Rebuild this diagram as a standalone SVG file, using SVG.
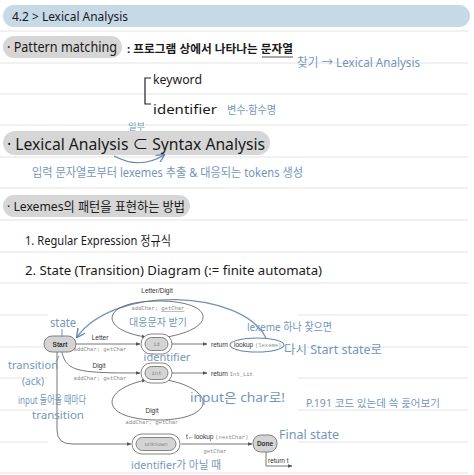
<svg xmlns="http://www.w3.org/2000/svg" width="474" height="475" viewBox="0 0 474 475">
<defs>
<style>
.rule{stroke:#e3e3e3;stroke-width:1.2}
.pill{fill:#d6d6d6}
.t{font-family:"Noto Sans","Noto Sans CJK KR",sans-serif;fill:#1a1a1a}
.b{font-family:"Noto Sans","Noto Sans CJK KR",sans-serif;fill:#7496bb}
.lbl{font-family:"Liberation Sans",Arial,sans-serif;font-size:6.5px;fill:#333}
.mono{font-family:"Liberation Mono","Courier New",monospace;font-size:5.5px;fill:#888}
.edge{fill:none;stroke:#666;stroke-width:0.9}
.node{fill:#d4d4d4;stroke:#777;stroke-width:0.9}
.outer{fill:#fff;stroke:#777;stroke-width:0.9}
</style>
<marker id="ah" viewBox="0 0 10 10" refX="9" refY="5" markerWidth="5" markerHeight="5" orient="auto"><path d="M0 1 L10 5 L0 9 z" fill="#555"/></marker>
<marker id="ahb" viewBox="0 0 10 10" refX="9" refY="5" markerWidth="7" markerHeight="7" orient="auto"><path d="M0 0 L10 5 L0 10" fill="none" stroke="#5f86ad" stroke-width="1.5"/></marker>
</defs>
<rect width="474" height="475" fill="#fff"/>
<g id="rules">
<line class="rule" x1="0" y1="31" x2="468" y2="31"/>
<line class="rule" x1="0" y1="63" x2="468" y2="63"/>
<line class="rule" x1="0" y1="94" x2="468" y2="94"/>
<line class="rule" x1="0" y1="125" x2="468" y2="125"/>
<line class="rule" x1="0" y1="157" x2="468" y2="157"/>
<line class="rule" x1="0" y1="188" x2="468" y2="188"/>
<line class="rule" x1="0" y1="220" x2="468" y2="220"/>
<line class="rule" x1="0" y1="252" x2="468" y2="252"/>
<line class="rule" x1="0" y1="283" x2="468" y2="283"/>
<line class="rule" x1="0" y1="315" x2="48" y2="315"/><line class="rule" x1="298" y1="315" x2="468" y2="315"/>
<line class="rule" x1="0" y1="347" x2="48" y2="347"/><line class="rule" x1="298" y1="347" x2="468" y2="347"/>
<line class="rule" x1="0" y1="378" x2="48" y2="378"/><line class="rule" x1="298" y1="378" x2="468" y2="378"/>
<line class="rule" x1="0" y1="410" x2="48" y2="410"/><line class="rule" x1="298" y1="410" x2="468" y2="410"/>
<line class="rule" x1="0" y1="442" x2="48" y2="442"/><line class="rule" x1="298" y1="442" x2="468" y2="442"/>
<line class="rule" x1="0" y1="473" x2="468" y2="473"/>
</g>
<g id="header">
<rect x="3" y="5" width="467" height="22" rx="11" fill="#c6d9e6"/>
<text class="t" x="12" y="21" font-size="13" textLength="116" lengthAdjust="spacingAndGlyphs">4.2 &gt; Lexical Analysis</text>
</g>
<g id="pattern">
<rect class="pill" x="3" y="36" width="119" height="22" rx="11"/>
<text class="t" x="7" y="52" font-size="14" textLength="110" lengthAdjust="spacingAndGlyphs">· Pattern matching</text>
<text class="t" x="127" y="53" font-size="11" font-weight="bold" textLength="166" lengthAdjust="spacingAndGlyphs">: 프로그램 상에서 나타나는 문자열</text>
<line x1="262" y1="57" x2="293" y2="57" stroke="#222" stroke-width="0.8"/>
<text class="b" x="297" y="67" font-size="12" textLength="123" lengthAdjust="spacingAndGlyphs" fill="#86a2c2">찾기 → Lexical Analysis</text>
<path d="M151 78 L145 78 L145 104 L151 104" fill="none" stroke="#222" stroke-width="1.2"/>
<text class="t" x="153" y="84" font-size="13" textLength="49" lengthAdjust="spacingAndGlyphs">keyword</text>
<text class="t" x="153" y="114" font-size="13" textLength="64" lengthAdjust="spacingAndGlyphs">identifier</text>
<text class="b" x="227" y="114" font-size="11" textLength="49" lengthAdjust="spacingAndGlyphs">변수·함수명</text>
</g>
<g id="lexical">
<rect class="pill" x="3" y="131" width="267" height="24" rx="12"/>
<text class="t" x="7" y="150" font-size="16" textLength="258" lengthAdjust="spacingAndGlyphs">· Lexical Analysis ⊂ Syntax Analysis</text>
<text class="b" x="128" y="130" font-size="9" textLength="17" lengthAdjust="spacingAndGlyphs">일부</text>
<path d="M114 156 Q140 170 164 155" fill="none" stroke="#5f86ad" stroke-width="1.2" marker-end="url(#ahb)"/>
<text class="b" x="32" y="177" font-size="12" textLength="271" lengthAdjust="spacingAndGlyphs">입력 문자열로부터 lexemes 추출 &amp; 대응되는 tokens 생성</text>
</g>
<g id="lexemes">
<rect class="pill" x="3" y="195" width="187" height="22" rx="11"/>
<text class="t" x="7" y="211" font-size="13" textLength="178" lengthAdjust="spacingAndGlyphs">· Lexemes의 패턴을 표현하는 방법</text>
<text class="t" x="25" y="245" font-size="13" textLength="146" lengthAdjust="spacingAndGlyphs">1. Regular Expression 정규식</text>
<text class="t" x="25" y="275" font-size="13" textLength="297" lengthAdjust="spacingAndGlyphs">2. State (Transition) Diagram (:= finite automata)</text>
</g>
<g id="connectors">
<path d="M266 338 C242 290, 115 284, 77 337" fill="none" stroke="#6f93b8" stroke-width="1.3" marker-end="url(#ahb)"/>
<text class="lbl" x="157" y="293" text-anchor="middle" font-size="6">Letter/Digit</text>
<path class="edge" d="M76 344 L140 344" marker-end="url(#ah)"/>
<text class="lbl" x="100" y="340" text-anchor="middle">Letter</text>
<text class="mono" x="100" y="351" text-anchor="middle">addChar; getChar</text>
<path class="edge" d="M62 352 C66 372, 80 373, 140 373" marker-end="url(#ah)"/>
<text class="lbl" x="99" y="368" text-anchor="middle">Digit</text>
<text class="mono" x="100" y="380" text-anchor="middle">addChar; getChar</text>
<path class="edge" d="M57 352 L57 430 Q57 444 72 444 L131 444" marker-end="url(#ah)"/>
<path class="edge" d="M167 337 C218 328, 215 301, 158 301 C100 301, 98 330, 146 337" marker-end="url(#ah)"/>
<text class="mono" x="158" y="310" text-anchor="middle">addChar; <tspan text-decoration="underline">getChar</tspan></text>
<path class="edge" d="M167 380 C218 390, 215 420, 158 420 C100 420, 98 390, 146 380" marker-end="url(#ah)"/>
<text class="lbl" x="152" y="413" text-anchor="middle">Digit</text>
<text class="mono" x="152" y="424" text-anchor="middle">addChar; getChar</text>
<path class="edge" d="M172 344 L207 344" marker-end="url(#ah)"/>
<text class="lbl" x="211" y="347" font-size="7">return</text>
<ellipse cx="257" cy="345" rx="27" ry="7" fill="none" stroke="#5f86ad" stroke-width="1.1"/>
<text class="lbl" x="234" y="347" font-size="7">lookup <tspan class="mono" font-size="5">(lexeme)</tspan></text>
<path class="edge" d="M172 373 L207 373" marker-end="url(#ah)"/>
<text class="lbl" x="211" y="376" font-size="7">return <tspan class="mono" font-size="5.5">Int_Lit</tspan></text>
<path class="edge" d="M181 444 L252 444" marker-end="url(#ah)"/>
<text class="lbl" x="186" y="439" font-size="7">t←lookup <tspan class="mono" font-size="5.5">(nextChar)</tspan></text>
<text class="mono" x="215" y="453" text-anchor="middle">getChar</text>
<path class="edge" d="M266 452 L266 466 L292 466" marker-end="url(#ah)"/>
<text class="lbl" x="268" y="463" font-size="5.5">return t</text>
</g>
<g id="start">
<rect class="node" x="44" y="336" width="32" height="16" rx="8"/>
<text class="lbl" x="60" y="346.5" text-anchor="middle" font-size="6" font-weight="bold">Start</text>
</g>
<g id="id">
<rect class="outer" x="141" y="334" width="31" height="20" rx="10"/>
<rect class="node" x="145" y="337.5" width="23" height="13" rx="6.5"/>
<text class="mono" x="156.5" y="346" text-anchor="middle" fill="#555">id</text>
</g>
<g id="int">
<rect class="outer" x="141" y="363" width="31" height="20" rx="10"/>
<rect class="node" x="145" y="366.5" width="23" height="13" rx="6.5"/>
<text class="mono" x="156.5" y="375" text-anchor="middle" fill="#555">int</text>
</g>
<g id="unknown">
<rect class="outer" x="132" y="434" width="48" height="20" rx="10"/>
<rect class="node" x="136" y="437.5" width="40" height="13" rx="6.5"/>
<text class="mono" x="156" y="446" text-anchor="middle" fill="#555">unknown</text>
</g>
<g id="done">
<rect class="node" x="253" y="435" width="24" height="17" rx="8"/>
<text class="lbl" x="265" y="446" text-anchor="middle" font-size="6.5" font-weight="bold">Done</text>
</g>
<g id="notes">
<text class="b" x="158" y="326" text-anchor="middle" font-size="10">대응문자 받기</text>
<text class="b" x="167" y="361" text-anchor="middle" font-size="11">identifier</text>
<text class="b" x="247" y="331" font-size="11" textLength="85" lengthAdjust="spacingAndGlyphs">lexeme 하나 찾으면</text>
<text class="b" x="284" y="354" font-size="12" textLength="98" lengthAdjust="spacingAndGlyphs">다시 Start state로</text>
<text class="b" x="190" y="402" font-size="13" textLength="95" lengthAdjust="spacingAndGlyphs">input은 char로!</text>
<text class="b" x="279" y="439" font-size="13" textLength="60" lengthAdjust="spacingAndGlyphs">Final state</text>
<text class="b" x="131" y="469" font-size="11" textLength="90" lengthAdjust="spacingAndGlyphs">identifier가 아닐 때</text>
<text class="b" x="50" y="327" font-size="12" textLength="26" lengthAdjust="spacingAndGlyphs">state</text>
<line x1="62" y1="329" x2="62" y2="337" stroke="#6f93b8" stroke-width="1"/>
<text class="b" x="8" y="369" font-size="11" textLength="50" lengthAdjust="spacingAndGlyphs">transition</text>
<line x1="56" y1="362" x2="59" y2="356" stroke="#6f93b8" stroke-width="1"/>
<text class="b" x="22" y="385" font-size="11" textLength="22" lengthAdjust="spacingAndGlyphs">(ack)</text>
<text class="b" x="18" y="404" font-size="11" textLength="68" lengthAdjust="spacingAndGlyphs">input 들어올 때마다</text>
<text class="b" x="32" y="419" font-size="11" textLength="52" lengthAdjust="spacingAndGlyphs">transition</text>
<text class="b" x="306" y="407" font-size="10" fill="#7a8a9c" textLength="134" lengthAdjust="spacingAndGlyphs">P.191 코드 있는데 쓱 훑어보기</text>
</g>
</svg>
